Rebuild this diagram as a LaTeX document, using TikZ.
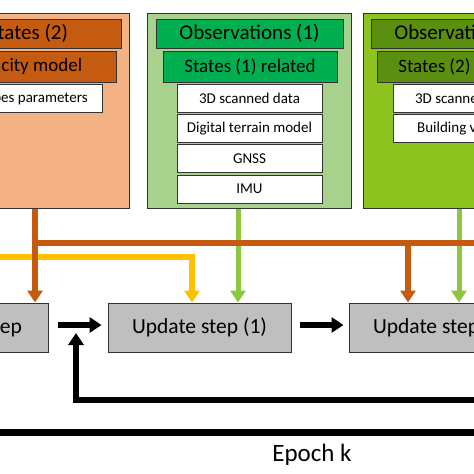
\documentclass[tikz,border=0pt]{standalone}
\usepackage{fontspec}
\setmainfont{Carlito}
\usetikzlibrary{arrows.meta}
\definecolor{stfill}{HTML}{F4B183}
\definecolor{sthead}{HTML}{C55A11}
\definecolor{obfill}{HTML}{A9D18E}
\definecolor{obhead}{HTML}{00B050}
\definecolor{obbfill}{HTML}{8EC31F}
\definecolor{obbhead}{HTML}{5B8F0F}
\definecolor{grline}{HTML}{8DC63F}
\definecolor{yeline}{HTML}{FFC000}
\definecolor{stepgray}{HTML}{BFBFBF}

\begin{document}
\begin{tikzpicture}[x=1pt, y=-1pt,
  panel/.style={draw=black!80, line width=1pt, minimum width=204pt, minimum height=195pt, inner sep=0pt},
  head/.style={draw=black!80, line width=0.8pt, minimum width=187pt, minimum height=29pt, inner sep=0pt, font=\fontsize{21}{21}\selectfont},
  sub/.style={draw=black!80, line width=0.8pt, minimum width=174pt, minimum height=31pt, inner sep=0pt, font=\fontsize{19}{19}\selectfont},
  item/.style={draw=black!80, line width=0.8pt, fill=white, minimum width=145pt, minimum height=28pt, inner sep=0pt, font=\fontsize{15}{15}\selectfont},
  stepbox/.style={draw=black!80, line width=1pt, fill=stepgray, minimum width=183pt, minimum height=49pt, inner sep=0pt, font=\fontsize{21.5}{21.5}\selectfont},
  flow/.style={line width=6pt, -{Triangle[width=15pt,length=12pt]}},
  bar/.style={line width=6pt}]
  \useasboundingbox (0,0) rectangle (474,474);
  \clip (0,0) rectangle (474,474);

  \node[panel, fill=stfill] (st2) at (27,110.5) {};
  \node[head, fill=sthead] (st2head) at (28,33.5) {States (2)};
  \node[sub, fill=sthead] (st2sub) at (29,66.5) {3D city model};
  \node[item] (st2par) at (29.5,98) {Shapes parameters};

  \node[panel, fill=obfill] (ob1) at (249,110.5) {};
  \node[head, fill=obhead] (ob1head) at (249.5,33.5) {Observations (1)};
  \node[sub, fill=obhead] (ob1sub) at (250,66.5) {States (1) related};
  \node[item] (ob1scan) at (249.5,98.5) {3D scanned data};
  \node[item] (ob1dtm) at (249.5,128.5) {Digital terrain model};
  \node[item] (ob1gnss) at (249.5,158.5) {GNSS};
  \node[item] (ob1imu) at (249.5,189) {IMU};

  \node[panel, fill=obbfill] (ob2) at (465,110.5) {};
  \node[head, fill=obbhead] (ob2head) at (464.5,33.5) {Observations (2)};
  \node[sub, fill=obbhead] (ob2sub) at (464,66.5) {States (2) related};
  \node[item] (ob2scan) at (465.5,98.5) {3D scanned data};
  \node[item] (ob2bld) at (465.5,128.5) {Building vectors};

  \node[stepbox] (pred) at (-43.5,327.5) {Prediction step};
  \node[stepbox] (up1) at (199.5,327.5) {Update step (1)};
  \node[stepbox] (up2) at (440.5,327.5) {Update step (2)};

  \coordinate (orA) at (35,243);
  \coordinate (orB) at (408,243);
  \coordinate (orE) at (474,243);
  \coordinate (yeS) at (0,257);
  \coordinate (yeC) at (192,257);
  \coordinate (grA) at (238,243);
  \coordinate (grB) at (459,243);
  \coordinate (fbE) at (474,400);
  \coordinate (fbC) at (76,400);
  \coordinate (fbT) at (76,333);
  \coordinate (epL) at (0,432);
  \coordinate (epR) at (474,432);

  \draw[flow, yeline, line join=miter] (yeS) -- (yeC) -- (up1.north -| yeC);
  \draw[flow, grline, line width=5pt] (ob1.south -| grA) -- (up1.north -| grA);
  \draw[flow, grline, line width=5pt] (ob2.south -| grB) -- (up2.north -| grB);
  \draw[bar, sthead] ([xshift=-3pt]orA) -- (orE);
  \draw[flow, sthead] (st2.south -| orA) -- (pred.north -| orA);
  \draw[flow, sthead] (orB) -- (up2.north -| orB);

  \draw[flow, shorten <=9pt, shorten >=6pt] ([yshift=2.5pt]pred.east) -- ([yshift=2.5pt]up1.west);
  \draw[flow, shorten <=8pt, shorten >=5pt] ([yshift=2.5pt]up1.east) -- ([yshift=2.5pt]up2.west);
  \draw[flow, line join=miter] (fbE) -- (fbC) -- (fbT);
  \draw[bar, line width=7pt] (epL) -- (epR);

  \node[font=\fontsize{25}{25}\selectfont] (epoch) at (312,455) {Epoch k};
\end{tikzpicture}
\end{document}
